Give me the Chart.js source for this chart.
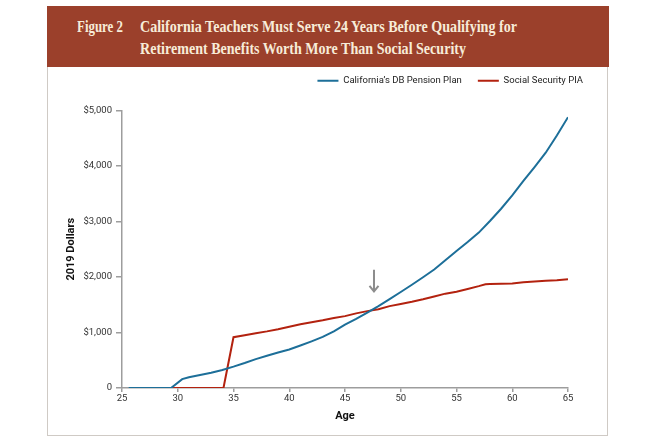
<!DOCTYPE html>
<html><head><meta charset="utf-8">
<script src="https://cdn.jsdelivr.net/npm/chart.js@4.4.1/dist/chart.umd.min.js"></script>
<style>
html,body{margin:0;padding:0;background:#fff;}
body{width:654px;height:440px;position:relative;overflow:hidden;}
#frame{position:absolute;left:47px;top:6px;width:559px;height:429px;border:1.5px solid #cfcac5;border-top:none;}
#banner{position:absolute;left:47px;top:6px;width:562px;height:61px;background:#9b402b;}
.t{position:absolute;color:#f7ecd9;font-family:"Liberation Serif",serif;font-weight:bold;font-size:17px;line-height:17px;white-space:nowrap;transform-origin:0 0;}
canvas{position:absolute;left:0;top:0;}
</style></head>
<body>
<div id="frame"></div>
<div id="banner"></div>
<div class="t" id="fig" style="left:77px;top:18px;" data-w="46">Figure 2</div>
<div class="t" id="l1" style="left:140px;top:18px;" data-w="377">California Teachers Must Serve 24 Years Before Qualifying for</div>
<div class="t" id="l2" style="left:140px;top:40px;" data-w="326">Retirement Benefits Worth More Than Social Security</div>
<canvas id="c" width="654" height="440"></canvas>
<script>
// ---- data ----
const dbAges = [25.6, 29.4, 30.4, 31, 32, 33, 34, 35, 36, 37, 38, 39, 40, 41, 42, 43, 44, 45, 46, 47, 48, 49, 50, 51, 52, 53, 54, 55, 56, 57, 58, 59, 60, 61, 62, 63, 64, 65];
const dbValues = [0, 0, 160, 195, 235, 275, 325, 385, 450, 520, 580, 640, 695, 765, 840, 920, 1020, 1140, 1245, 1360, 1475, 1600, 1730, 1860, 1995, 2135, 2300, 2470, 2630, 2800, 3010, 3230, 3470, 3730, 3980, 4240, 4550, 4880];
const ssAges = [29.5, 34.1, 35, 36, 37, 38, 39, 40, 41, 42, 43, 44, 45, 46, 47, 48, 49, 50, 51, 52, 53, 54, 55, 56, 57, 57.6, 58, 59, 60, 61, 62, 63, 64, 65];
const ssValues = [0, 0, 915, 950, 985, 1020, 1060, 1105, 1150, 1185, 1220, 1260, 1295, 1345, 1385, 1420, 1475, 1515, 1555, 1600, 1650, 1700, 1735, 1785, 1835, 1870, 1872, 1878, 1885, 1905, 1920, 1932, 1940, 1958];
const seriesNames = ["California\u2019s DB Pension Plan", "Social Security PIA"];
const xTickValues = [25, 30, 35, 40, 45, 50, 55, 60, 65];
const yTickValues = [0, 1000, 2000, 3000, 4000, 5000];
const arrowAge = 47.6, arrowFrom = 2130, arrowTo = 1730;

// fit banner text widths
document.querySelectorAll('.t').forEach(el => {
  const w = el.getBoundingClientRect().width;
  el.style.transform = 'scaleX(' + (parseFloat(el.dataset.w) / w) + ')';
});

const BLUE = '#1d6f99', RED = '#b3220f', AXIS = '#9d9d9d';
const tickFont = {family: 'Roboto', size: 9.5};

const legendSpace = {
  id: 'legendSpace',
  beforeInit(chart) {
    const orig = chart.legend.fit;
    chart.legend.fit = function () { orig.bind(chart.legend)(); this.height += 15; };
  }
};
const arrow = {
  id: 'arrow',
  afterDatasetsDraw(chart) {
    const {ctx, scales: {x, y}} = chart;
    const px = x.getPixelForValue(arrowAge);
    const y1 = y.getPixelForValue(arrowFrom), y2 = y.getPixelForValue(arrowTo);
    ctx.save();
    ctx.strokeStyle = '#8d8d8d'; ctx.lineWidth = 2; ctx.lineCap = 'butt';
    ctx.beginPath();
    ctx.moveTo(px, y1); ctx.lineTo(px, y2);
    ctx.moveTo(px - 4.5, y2 - 6); ctx.lineTo(px, y2 - 0.5); ctx.lineTo(px + 4.5, y2 - 6);
    ctx.stroke();
    ctx.restore();
  }
};

new Chart(document.getElementById('c'), {
  type: 'line',
  data: {
    datasets: [
      {label: seriesNames[0], data: dbAges.map((a, i) => ({x: a, y: dbValues[i]})), borderColor: BLUE, backgroundColor: BLUE, borderWidth: 2, pointRadius: 0, tension: 0},
      {label: seriesNames[1], data: ssAges.map((a, i) => ({x: a, y: ssValues[i]})), borderColor: RED, backgroundColor: RED, borderWidth: 2, pointRadius: 0, tension: 0}
    ]
  },
  options: {
    responsive: false, animation: false,
    layout: {padding: {left: 65, right: 55, top: 60, bottom: 17}},
    plugins: {
      legend: {position: 'top', align: 'end', labels: {usePointStyle: true, pointStyle: 'line', pointStyleWidth: 21, font: {family: 'Roboto', size: 9.5}, color: '#222', padding: 16}},
      tooltip: {enabled: false}
    },
    scales: {
      x: {
        type: 'linear', min: 25, max: 65,
        afterBuildTicks(s) { s.ticks = xTickValues.map(v => ({value: v})); },
        ticks: {font: tickFont, color: '#333', padding: 1, maxRotation: 0},
        grid: {drawOnChartArea: false, drawTicks: true, tickLength: 4, color: AXIS, lineWidth: 1.5},
        border: {color: AXIS, width: 1.5},
        title: {display: true, text: 'Age', font: {family: 'Roboto', size: 11, weight: 'bold'}, color: '#111', padding: 0},
        afterFit(s) { s.height = 35; }
      },
      y: {
        min: 0, max: 5000,
        afterBuildTicks(s) { s.ticks = yTickValues.map(v => ({value: v})); },
        ticks: {font: tickFont, color: '#333', padding: 4, callback: v => v === 0 ? '0' : '$' + v.toLocaleString('en-US')},
        grid: {drawOnChartArea: false, drawTicks: true, tickLength: 6, color: AXIS, lineWidth: 1.5},
        border: {color: AXIS, width: 1.5},
        title: {display: true, text: '2019 Dollars', font: {family: 'Roboto', size: 11, weight: 'bold'}, color: '#111', padding: 0},
        afterFit(s) { s.width = 57; }
      },
      yR: {
        position: 'right', display: true,
        grid: {display: false}, ticks: {display: false}, border: {display: false},
        afterFit(s) { s.width = 31; }
      }
    }
  },
  plugins: [legendSpace, arrow]
});
</script>
</body></html>
